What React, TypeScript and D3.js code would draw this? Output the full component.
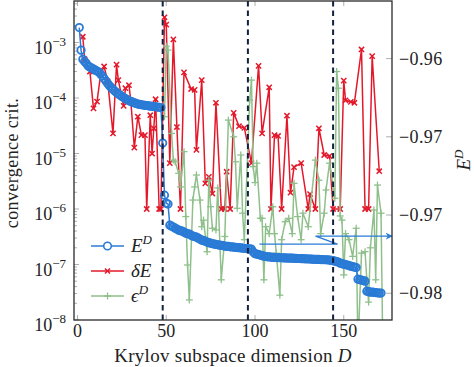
import React from 'react';
import * as d3 from 'd3';

const W = 474;
const H = 367;
const PL = 74, PR = 392, PT = 1, PB = 320;

const xTicks = [0, 50, 100, 150];
const leftTickExps = [-8, -7, -6, -5, -4, -3];
const rightTicks = [-0.96, -0.965, -0.97, -0.975];
const rightTickLabels = ['−0.96', '−0.97', '−0.97', '−0.98'];
const dashedD = [48, 96, 144];

// E^D (right axis), D = 1 .. 171
const energyStartD = 1;
const energy = [
  -0.95802, -0.95946, -0.96005, -0.96019, -0.96031, -0.96048, -0.96054, -0.96061, -0.96067, -0.96074,
  -0.96080, -0.96086, -0.96099, -0.96112, -0.96128, -0.96144, -0.96160, -0.96173, -0.96185, -0.96198,
  -0.96208, -0.96217, -0.96227, -0.96233, -0.96243, -0.96249, -0.96256, -0.96262, -0.96269, -0.96275,
  -0.96278, -0.96283, -0.96287, -0.96291, -0.96293, -0.96295, -0.96297, -0.96299, -0.96300, -0.96302,
  -0.96304, -0.96305, -0.96307, -0.96308, -0.96310, -0.96311, -0.96313, -0.96540, -0.96873, -0.96924,
  -0.96930, -0.97065, -0.97071, -0.97077, -0.97084, -0.97090, -0.97097, -0.97100, -0.97103, -0.97109,
  -0.97116, -0.97119, -0.97122, -0.97129, -0.97135, -0.97138, -0.97141, -0.97148, -0.97154, -0.97161,
  -0.97164, -0.97167, -0.97173, -0.97177, -0.97180, -0.97183, -0.97186, -0.97188, -0.97190, -0.97193,
  -0.97194, -0.97196, -0.97199, -0.97200, -0.97201, -0.97203, -0.97204, -0.97205, -0.97207, -0.97208,
  -0.97209, -0.97210, -0.97212, -0.97213, -0.97214, -0.97216, -0.97217, -0.97218, -0.97237, -0.97247,
  -0.97250, -0.97253, -0.97256, -0.97260, -0.97263, -0.97265, -0.97267, -0.97268, -0.97269, -0.97271,
  -0.97271, -0.97272, -0.97272, -0.97273, -0.97273, -0.97274, -0.97274, -0.97275, -0.97275, -0.97276,
  -0.97276, -0.97277, -0.97277, -0.97278, -0.97278, -0.97279, -0.97279, -0.97280, -0.97280, -0.97281,
  -0.97281, -0.97282, -0.97283, -0.97283, -0.97284, -0.97284, -0.97285, -0.97285, -0.97286, -0.97286,
  -0.97287, -0.97288, -0.97290, -0.97292, -0.97295, -0.97298, -0.97301, -0.97308, -0.97311, -0.97314,
  -0.97317, -0.97320, -0.97324, -0.97327, -0.97330, -0.97333, -0.97336, -0.97410, -0.97413, -0.97416,
  -0.97419, -0.97423, -0.97487, -0.97490, -0.97493, -0.97493, -0.97495, -0.97496, -0.97497, -0.97499,
  -0.97499,
];

// delta E (left axis)
const deltaD = [3, 4, 7, 9, 11, 13, 15, 17, 20, 22, 23, 26, 27, 29, 30, 32, 34, 36, 38, 39, 41, 42, 43, 44, 46, 47,
  49, 50, 52, 54, 56, 58, 60, 64, 66, 67, 70, 72, 74, 76, 78, 81, 83, 84, 86, 88, 91, 94, 98, 102, 104, 108, 109,
  111, 113, 115, 118, 120, 122, 126, 130, 131, 134, 136, 139, 142, 144, 148, 150, 151, 154, 156, 160, 162, 164, 166, 170];
const deltaE = [1.27e-3, 5.0e-4, 3.0e-4, 6.5e-5, 8.6e-5, 2.6e-4, 3.7e-4, 2.0e-4, 2.3e-5, 4.0e-4, 2.1e-4, 7.2e-5, 1.5e-4,
  1.7e-4, 9.2e-5, 1.28e-5, 4.6e-5, 2.15e-5, 2.15e-5, 1e-6, 4.9e-5, 1.0e-5, 2.85e-5, 9.5e-5, 1e-6, 1e-6, 2.85e-3,
  2.1e-3, 6.7e-6, 1.14e-3, 3.0e-5, 1e-6, 2.9e-4, 1.45e-4, 1.4e-4, 1.16e-5, 2.1e-4, 2.9e-6, 3.8e-6, 1.9e-6, 8.2e-5,
  1e-6, 1e-6, 4.7e-6, 1e-6, 5.4e-5, 3.1e-5, 2.9e-5, 6.7e-6, 3.8e-4, 2.3e-5, 1.56e-4, 1e-6, 2.15e-5, 2.07e-5, 1e-6,
  4.8e-5, 1.97e-6, 5.7e-6, 6.7e-6, 1e-6, 1.86e-6, 1e-6, 2.85e-5, 9.4e-6, 9.0e-6, 1e-6, 1e-6, 2.06e-4, 9.1e-5, 8.5e-5,
  8.2e-5, 7.5e-4, 1e-6, 1e-6, 5.7e-4, 4.8e-6];

// epsilon^D (left axis)
const epsD = [49, 50, 51, 53, 54, 55, 57, 58, 60, 61, 62, 63, 65, 66, 67, 69, 70, 71, 73, 74, 75, 76, 78, 79, 81, 83,
  85, 88, 89, 90, 92, 93, 94, 97, 98, 99, 100, 101, 103, 104, 105, 106, 108, 110, 111, 112, 114, 115, 117, 119, 121,
  122, 124, 126, 127, 130, 134, 136, 137, 139, 140, 142, 145, 146, 147, 148, 149, 150, 151, 153, 155, 157, 158, 160,
  162, 163, 164, 165, 167, 168, 169, 171, 172];
const eps = [4.6e-5, 8.6e-4, 7.3e-4, 2.3e-5, 7.6e-6, 7.1e-6, 4.4e-6, 2.5e-6, 1.08e-5, 7.3e-7, 9.8e-8, 2.3e-8, 1.45e-6,
  2.5e-6, 4.1e-6, 1.45e-6, 4.8e-7, 6.3e-7, 1.7e-7, 3.3e-6, 1.1e-6, 4.5e-7, 4.2e-7, 2.4e-6, 5.3e-8, 3.2e-7, 4.0e-5,
  2.0e-5, 7.1e-6, 1.03e-6, 9.4e-6, 8.4e-7, 2.8e-7, 9.2e-5, 2.1e-4, 5.8e-6, 3.0e-6, 6.7e-6, 6.8e-7, 6.8e-7, 5.3e-8,
  4.8e-7, 3.6e-7, 1.1e-6, 3.6e-7, 1.6e-7, 2.8e-8, 2.8e-7, 5.9e-7, 6.8e-7, 3.6e-7, 2.9e-6, 7.3e-7, 2.8e-7, 8.4e-7,
  4.8e-7, 7.6e-6, 3.3e-6, 3.6e-7, 8.4e-7, 2.2e-6, 6.7e-6, 1.56e-6, 3.0e-4, 1.5e-4, 7.5e-7, 6.3e-7, 6.5e-8, 3.6e-7,
  2.8e-7, 1.4e-7, 4.5e-7, 3e-9, 1.6e-7, 1.7e-7, 5.3e-8, 2.1e-8, 2.0e-7, 9.6e-7, 5.3e-8, 2.7e-6, 8.4e-7, 3e-9];

// blue pointer annotation (D, E^D)
const arrowD = [102.5, 146.5, 134.1, 177.18];
const arrowE = [-0.97186, -0.97186, -0.97135, -0.97135];

const BLUE = '#2a7bd6';
const RED = '#e3192b';
const GREEN = '#8fc08c';
const DASH = '#12213f';
const FONT = '"Liberation Serif", "DejaVu Serif", serif';

export default function App() {
  const x = d3.scaleLinear().domain([-1.97, 177.18]).range([PL, PR]);
  const yL = d3.scaleLog().domain([1e-8, Math.pow(10, -2.252)]).range([PB, PT]);
  const yR = d3.scaleLinear().domain([-0.97671, -0.95632]).range([PB, PT]);

  const bluePts: [number, number][] = energy.map((v, i) => [x(energyStartD + i), yR(v)]);
  const redPts: [number, number][] = deltaE.map((v, i) => [x(deltaD[i]), yL(v)]);
  const greenPts: [number, number][] = eps.map((v, i) => [x(epsD[i]), yL(v)]);
  const line = d3.line();
  const arrowPts: [number, number][] = arrowD.map((d, i) => [x(d), yR(arrowE[i])]);

  const minor: { y: number; major: boolean }[] = [];
  for (let e = -8; e <= -3; e++) {
    for (let m = 1; m <= 9; m++) {
      const v = m * Math.pow(10, e);
      const yy = yL(v);
      if (yy >= PT && yy <= PB) minor.push({ y: yy, major: m === 1 });
    }
  }

  const TC = '#9a9a9a';

  return (
    <svg width={W} height={H} style={{ position: 'absolute', left: 0, top: 0, background: '#fff' }}
      fontFamily={FONT}>
      <defs>
        <clipPath id="plot">
          <rect x={PL} y={PT} width={PR - PL} height={PB - PT} />
        </clipPath>
        <marker id="ah" viewBox="0 0 10 10" refX="9" refY="5" markerWidth="7" markerHeight="7"
          orient="auto" markerUnits="userSpaceOnUse">
          <path d="M0,0 L10,5 L0,10 L3,5 Z" fill={BLUE} />
        </marker>
      </defs>
      <rect x={0} y={0} width={W} height={H} fill="#fff" />

      {/* ticks */}
      {minor.map((t, i) => (
        <line key={'lt' + i} x1={PL} x2={PL + (t.major ? 5 : 3)} y1={t.y} y2={t.y} stroke={TC} strokeWidth={0.8} />
      ))}
      {rightTicks.map((t, i) => (
        <line key={'rt' + i} x1={PR - 6} x2={PR} y1={yR(t)} y2={yR(t)} stroke={TC} strokeWidth={0.8} />
      ))}
      {xTicks.map((t, i) => (
        <g key={'xt' + i}>
          <line x1={x(t)} x2={x(t)} y1={PB} y2={PB - 5} stroke={TC} strokeWidth={0.8} />
          <line x1={x(t)} x2={x(t)} y1={PT} y2={PT + 5} stroke={TC} strokeWidth={0.8} />
        </g>
      ))}

      <g clipPath="url(#plot)">
        {/* delta E */}
        <path d={line(redPts) || ''} fill="none" stroke={RED} strokeWidth={1.5} strokeLinejoin="round" />
        {redPts.map((p, i) => (
          <g key={'r' + i} stroke={RED} strokeWidth={1.5}>
            <line x1={p[0] - 2.6} y1={p[1] - 2.6} x2={p[0] + 2.6} y2={p[1] + 2.6} />
            <line x1={p[0] - 2.6} y1={p[1] + 2.6} x2={p[0] + 2.6} y2={p[1] - 2.6} />
          </g>
        ))}
        {/* epsilon */}
        <path d={line(greenPts) || ''} fill="none" stroke={GREEN} strokeWidth={1.5} strokeLinejoin="round" />
        {greenPts.map((p, i) => (
          <g key={'g' + i} stroke={GREEN} strokeWidth={1.3}>
            <line x1={p[0] - 3.5} y1={p[1]} x2={p[0] + 3.5} y2={p[1]} />
            <line x1={p[0]} y1={p[1] - 3.5} x2={p[0]} y2={p[1] + 3.5} />
          </g>
        ))}
        {/* E^D */}
        <path d={line(bluePts) || ''} fill="none" stroke={BLUE} strokeWidth={1.5} />
        {bluePts.map((p, i) => (
          <circle key={'b' + i} cx={p[0]} cy={p[1]} r={3.7} fill="none" stroke={BLUE} strokeWidth={1.8} />
        ))}
        {/* pointer */}
        <path d={line(arrowPts) || ''} fill="none" stroke={BLUE} strokeWidth={1.4} markerEnd="url(#ah)" />
        {/* dashed separators */}
        {dashedD.map((d, i) => (
          <line key={'d' + i} x1={x(d)} x2={x(d)} y1={PT} y2={PB} stroke={DASH} strokeWidth={2}
            strokeDasharray="5.5,4" />
        ))}
      </g>

      {/* frame */}
      <rect x={PL} y={PT} width={PR - PL} height={PB - PT} fill="none" stroke="#2a2a2a" strokeWidth={1.3} />

      {/* left tick labels */}
      {leftTickExps.map((e, i) => (
        <text key={'ll' + i} x={66} y={yL(Math.pow(10, e)) + 11} textAnchor="end" fontSize={18} fill="#222">
          10<tspan dy={-8} fontSize={13}>{'−' + Math.abs(e)}</tspan>
        </text>
      ))}
      {/* right tick labels */}
      {rightTicks.map((t, i) => (
        <text key={'rl' + i} x={399} y={yR(t) + 6} fontSize={18} fill="#222" letterSpacing={0.4}>
          {rightTickLabels[i]}
        </text>
      ))}
      {/* x tick labels */}
      {xTicks.map((t, i) => (
        <text key={'xl' + i} x={x(t)} y={337} textAnchor="middle" fontSize={18} fill="#222">{t}</text>
      ))}

      {/* axis titles */}
      <text x={233} y={362} textAnchor="middle" fontSize={19} fill="#222" letterSpacing={0.3}>
        Krylov subspace dimension <tspan fontStyle="italic">D</tspan>
      </text>
      <text transform="translate(18,163) rotate(-90)" textAnchor="middle" fontSize={18} fill="#222" letterSpacing={0.4}>
        convergence crit.
      </text>
      <text transform="translate(470,160) rotate(-90)" textAnchor="middle" fontSize={19} fill="#222" fontStyle="italic">
        E<tspan dy={-7} fontSize={13}>D</tspan>
      </text>

      {/* legend */}
      <g>
        <line x1={91} x2={124} y1={246} y2={246} stroke={BLUE} strokeWidth={1.5} />
        <circle cx={107.5} cy={246} r={3.8} fill="#fff" stroke={BLUE} strokeWidth={1.6} />
        <text x={131} y={252} fontSize={19} fontStyle="italic" fill="#222">
          E<tspan dy={-8} fontSize={13}>D</tspan>
        </text>

        <line x1={91} x2={124} y1={271} y2={271} stroke={RED} strokeWidth={1.5} />
        <g stroke={RED} strokeWidth={1.5}>
          <line x1={105} y1={268.5} x2={110} y2={273.5} />
          <line x1={105} y1={273.5} x2={110} y2={268.5} />
        </g>
        <text x={131} y={277} fontSize={19} fontStyle="italic" fill="#222">δE</text>

        <line x1={91} x2={124} y1={296} y2={296} stroke={GREEN} strokeWidth={1.5} />
        <g stroke={GREEN} strokeWidth={1.3}>
          <line x1={104} y1={296} x2={111} y2={296} />
          <line x1={107.5} y1={292.5} x2={107.5} y2={299.5} />
        </g>
        <text x={131} y={302} fontSize={19} fontStyle="italic" fill="#222">
          ϵ<tspan dy={-8} fontSize={13}>D</tspan>
        </text>
      </g>
    </svg>
  );
}
